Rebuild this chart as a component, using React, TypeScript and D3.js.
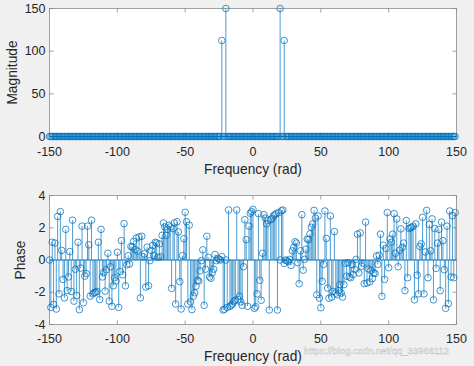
import React from "react";
import * as d3 from "d3";

const FREQS: number[] = d3.range(-150, 150);
const PEAK_FREQS = [-23, -20, 20, 23];
const PEAK_MAGS = [112.5, 150, 150, 112.5];

// phase for f = -150 .. -1
const PHASE_NEG = [
  0, -2.94, 1.10, -2.75, 1.05, -3.04, 2.70, -2.10, 3.00, 0.60,
  -1.20, -2.35, 1.90, -1.90, -1.05, 0.52, -1.95, 2.47, -2.55, -0.57,
  -2.20, 1.10, -3.08, -0.50, 2.10, -2.65, -1.00, -0.84, 2.10, 0.94,
  -2.24, 2.47, -2.10, -2.03, -2.00, -1.95, 1.10, -2.45, 1.90, -1.05,
  -0.78, -1.93, -0.60, 0.42, -2.55, -0.42, -2.87, -1.60, -1.10, -1.30,
  0.48, -2.94, -0.71, 1.20, -0.92, 2.25, -1.60, -0.30, 0.27, -0.25,
  0.84, 0.80, 1.15, 0.65, 1.36, 0.55, 1.43, -2.35, 1.47, 0.20,
  0.38, -1.68, 0.80, -1.60, -0.04, 0.59, 0.90, 0.27, 1.10, 1.05,
  0.17, 1.00, 0.20, 1.53, 2.30, 2.05, 1.53, 1.90, 2.16, 2.05,
  -1.76, 1.95, 2.30, -2.73, 2.37, 1.74, -1.34, -3.04, 0.27, 1.32,
  2.96, 2.37, -2.73, 2.16, -2.60, -3.08, -2.24, -2.03, -1.62, -1.26,
  -1.30, -0.67, -0.04, 0.63, -2.81, -0.57, 1.47, 0.17, -1.05, -1.13,
  -0.78, -0.57, 0.34, -0.04, 0.10, 0.05, 0.00, 0.21, -3.10, -3.05,
  0.00, -2.94, 3.10, -2.87, -2.80, -2.73, -2.56, -2.50, 3.10, -2.45,
  -2.24, -2.60, -2.81, -0.42, 2.50, 1.26, -2.87, 2.10, 2.90, 3.00,
];
const PHASE_ZERO = [3.14];
// phase for f = 1 .. 149
const PHASE_POS = [
  -3.00, -2.90, -2.10, 2.87, -1.26, -2.50, 0.42, 2.81, 2.60, 2.24,
  2.45, -3.10, 2.50, 2.56, 2.73, 2.80, 2.87, -3.10, 2.94, 0.00,
  3.05, 3.10, -0.21, 0.00, -0.05, -0.10, 0.04, -0.34, 0.57, 0.78,
  1.13, 1.05, -0.17, -1.47, 0.57, 2.81, -0.63, 0.04, 0.67, 1.30,
  1.26, 1.62, 2.03, 2.24, 3.08, 2.60, -2.16, 2.73, -2.37, -2.96,
  -1.32, -0.27, 3.04, 1.34, -1.74, -2.37, 2.73, -2.30, -1.95, 1.76,
  -2.05, -2.16, -1.90, -1.53, -2.05, -2.30, -1.53, -0.20, -1.00, -0.17,
  -1.05, -1.10, -0.27, -0.90, -0.59, 0.04, 1.60, -0.80, 1.68, -0.38,
  -0.20, -1.47, 2.35, -1.43, -0.55, -1.36, -0.65, -1.15, -0.80, -0.84,
  0.25, -0.27, 0.30, 1.60, -2.25, 0.92, -1.20, 0.71, 2.94, -0.48,
  1.30, 1.10, 1.60, 2.87, 0.42, 2.55, -0.42, 0.60, 1.93, 0.78,
  1.05, -1.90, 2.45, -1.10, 1.95, 2.00, 2.03, 2.10, -2.47, 2.24,
  -0.94, -2.10, 0.84, 1.00, 2.65, -2.10, 0.50, 3.08, -1.10, 2.20,
  0.57, 2.55, -2.47, 1.95, -0.52, 1.05, 1.90, -1.90, 2.35, 1.20,
  -0.60, -3.00, 2.10, -2.70, 3.04, -1.05, 2.75, -1.10, 2.94,
];

const X_TICKS = [-150, -100, -50, 0, 50, 100, 150];
const MAG_TICKS = [0, 50, 100, 150];
const PHASE_TICKS = [-4, -2, 0, 2, 4];

const PHASE = [...PHASE_NEG, ...PHASE_ZERO, ...PHASE_POS];
const MAG = FREQS.map((f) => {
  const i = PEAK_FREQS.indexOf(f);
  return i >= 0 ? PEAK_MAGS[i] : 0;
});

const W = 474;
const H = 366;
const FONT = "'Liberation Sans', Arial, Helvetica, sans-serif";
const BLUE = "#0072BD";
const AXIS = "#8a8a8a";
const TXT = "#262626";

type PanelProps = {
  values: number[];
  yDomain: [number, number];
  yTicks: number[];
  top: number;
  bottom: number;
  ylabel: string;
  ylabelX: number;
  xTickY: number;
  xLabelY: number;
};

function Panel(p: PanelProps) {
  const x = d3.scaleLinear().domain([-150, 150]).range([49.5, 456.5]);
  const y = d3.scaleLinear().domain(p.yDomain).range([p.bottom, p.top]);
  const tl = 4;
  const y0 = y(0);
  return (
    <g>
      <rect x={x(-150)} y={p.top} width={x(150) - x(-150)} height={p.bottom - p.top} fill="#fff" />
      <rect x={x(-150)} y={p.top} width={x(150) - x(-150)} height={p.bottom - p.top} fill="none" stroke={AXIS} strokeWidth={0.8} />
      {X_TICKS.map((t) => (
        <g key={"xt" + t}>
          <line x1={x(t)} x2={x(t)} y1={p.bottom} y2={p.bottom - tl} stroke={AXIS} strokeWidth={0.8} />
          <line x1={x(t)} x2={x(t)} y1={p.top} y2={p.top + tl} stroke={AXIS} strokeWidth={0.8} />
          <text x={x(t)} y={p.xTickY} textAnchor="middle" dominantBaseline="central" fontFamily={FONT} fontSize={12.5} fill={TXT}>
            {t}
          </text>
        </g>
      ))}
      {p.yTicks.map((t) => (
        <g key={"yt" + t}>
          <line x1={x(-150)} x2={x(-150) + tl} y1={y(t)} y2={y(t)} stroke={AXIS} strokeWidth={0.8} />
          <line x1={x(150)} x2={x(150) - tl} y1={y(t)} y2={y(t)} stroke={AXIS} strokeWidth={0.8} />
          <text x={x(-150) - 4} y={y(t)} textAnchor="end" dominantBaseline="central" fontFamily={FONT} fontSize={12.5} fill={TXT}>
            {t}
          </text>
        </g>
      ))}
      {FREQS.map((f, i) => (
        <line key={"s" + f} x1={x(f)} x2={x(f)} y1={y0} y2={y(p.values[i])} stroke={BLUE} strokeWidth={0.7} />
      ))}
      <line x1={x(-150)} x2={x(150)} y1={y0} y2={y0} stroke={BLUE} strokeWidth={1} />
      {FREQS.map((f, i) => (
        <circle key={"c" + f} cx={x(f)} cy={y(p.values[i])} r={3.3} fill="none" stroke={BLUE} strokeWidth={0.75} />
      ))}
      <text x={253} y={p.xLabelY} textAnchor="middle" dominantBaseline="central" fontFamily={FONT} fontSize={13.75} fill={TXT}>
        Frequency (rad)
      </text>
      <text
        transform={`translate(${p.ylabelX},${(p.top + p.bottom) / 2}) rotate(-90)`}
        textAnchor="middle"
        dominantBaseline="central"
        fontFamily={FONT}
        fontSize={13.75}
        fill={TXT}
      >
        {p.ylabel}
      </text>
    </g>
  );
}

export default function App() {
  return (
    <div style={{ position: "absolute", left: 0, top: 0 }}>
      <svg width={W} height={H} viewBox={`0 0 ${W} ${H}`} style={{ display: "block" }}>
        <rect x={0} y={0} width={W} height={H} fill="#f0f0f0" />
        <Panel values={MAG} yDomain={[0, 150]} yTicks={MAG_TICKS} top={8.5} bottom={136.5} ylabel="Magnitude" ylabelX={12} xTickY={151.7} xLabelY={169.3} />
        <Panel values={PHASE} yDomain={[-4, 4]} yTicks={PHASE_TICKS} top={195.5} bottom={324.5} ylabel="Phase" ylabelX={20.5} xTickY={339} xLabelY={356.5} />
        <text x={304} y={354} fontFamily={FONT} fontSize={9.5} fill="#fafafa" stroke="#c4c4c4" strokeWidth={0.45}>
          https://blog.csdn.net/qq_33966112
        </text>
      </svg>
    </div>
  );
}
